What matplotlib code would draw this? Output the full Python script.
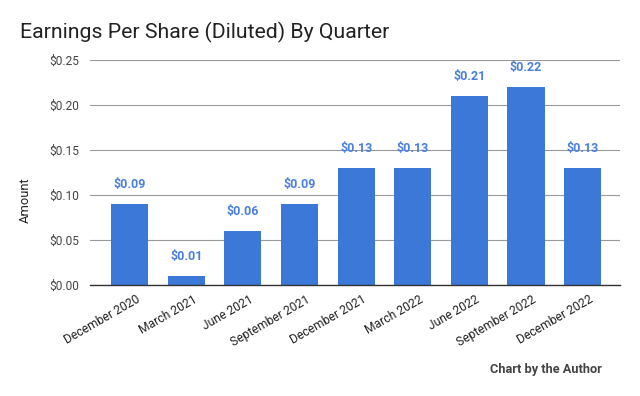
import matplotlib
matplotlib.use("Agg")
import numpy as np
from matplotlib import pyplot as plt

# quarterly diluted EPS
quarters = ["December 2020", "March 2021", "June 2021", "September 2021",
            "December 2021", "March 2022", "June 2022", "September 2022",
            "December 2022"]
eps = [0.09, 0.01, 0.06, 0.09, 0.13, 0.13, 0.21, 0.22, 0.13]
yticks = [0.0, 0.05, 0.10, 0.15, 0.20, 0.25]

plt.rcParams['font.family'] = ['Roboto', 'DejaVu Sans']

fig = plt.figure(figsize=(6.4, 3.96), dpi=100)
ax = fig.add_axes([90 / 640, 1 - 285.3 / 396, 530 / 640, 225.3 / 396])

bar_color = "#3c78d8"
x = np.arange(len(quarters))
ax.bar(x, eps, width=0.655, color=bar_color, zorder=3)

for xi, v in zip(x, eps):
    ax.annotate("$%.2f" % v, (xi, v), xytext=(0, 14), textcoords="offset points",
                ha="center", va="center", fontsize=9, fontweight="bold",
                color="#4a7fdc")

# rotated category labels, drawn by hand so they can sit a bit right of the tick
for xi, q in zip(x, quarters):
    ax.annotate(q, (xi, 0), xycoords=("data", "axes fraction"),
                xytext=(4.5, -5.5), textcoords="offset points",
                rotation=30, ha="right", va="top", rotation_mode="anchor",
                fontsize=8.7, color="#222222")

ax.set_xlim(-0.70, 8.66)
ax.set_ylim(0, 0.25)
ax.set_yticks(yticks)
ax.set_yticklabels(["$%.2f" % t for t in yticks], fontsize=8.6, color="#444444")
ax.set_xticks(x)
ax.set_xticklabels([])
ax.tick_params(axis="both", length=0)
ax.tick_params(axis="y", pad=8)
ax.grid(axis="y", color="#9a9a9a", linewidth=0.8, zorder=0)
for s in ["top", "right", "left"]:
    ax.spines[s].set_visible(False)
ax.spines["bottom"].set_color("#333333")
ax.spines["bottom"].set_linewidth(1.0)
ax.spines["bottom"].set_zorder(4)

ax.set_ylabel("Amount", fontsize=9.3, color="#222222", va="center")
ax.yaxis.set_label_coords((25 - 90) / 530, (285.3 - 200) / 225.3)

fig.text(20 / 640, 1 - 32 / 396, "Earnings Per Share (Diluted) By Quarter",
         fontsize=15.3, color="#222222", ha="left", va="center")
fig.text(602 / 640, 1 - 369 / 396, "Chart by the Author", fontsize=9.2,
         fontweight="bold", color="#444444", ha="right", va="center")

plt.savefig("out.png", dpi=100)
